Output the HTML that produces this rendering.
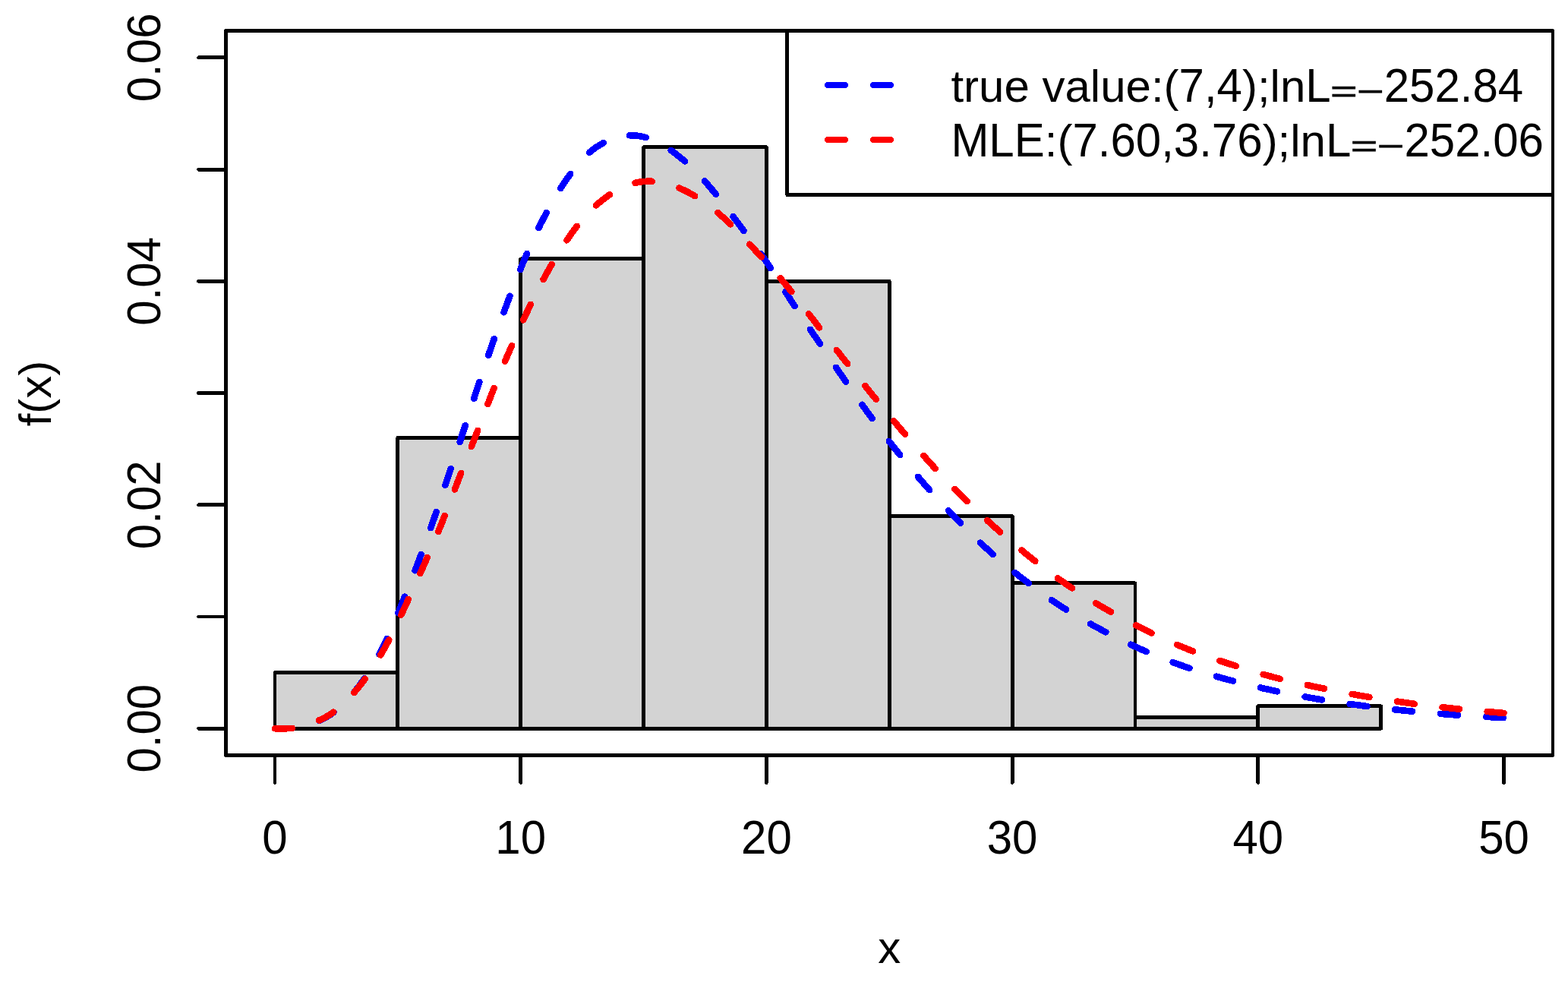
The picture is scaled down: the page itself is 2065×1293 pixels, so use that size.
<!DOCTYPE html>
<html lang="en"><head><meta charset="utf-8"><title>f(x) histogram with fitted densities</title>
<style>
html,body{margin:0;padding:0;background:#fff;}
body{width:2065px;height:1293px;overflow:hidden;}
svg{display:block;}
text{font-family:"Liberation Sans",Arial,Helvetica,sans-serif;font-size:60px;fill:#000;stroke:#000;stroke-width:0px;stroke-linejoin:round;white-space:pre;font-kerning:none;}
</style></head><body>
<svg shape-rendering="crispEdges" width="2065" height="1293" viewBox="0 0 2065 1293">
<rect x="0" y="0" width="2065" height="1293" fill="#fff"/>
<g fill="#d3d3d3" stroke="#000" stroke-width="4.8" stroke-linejoin="round">
<rect x="362.00" y="885.59" width="161.85" height="73.61"/>
<rect x="523.85" y="576.43" width="161.85" height="382.77"/>
<rect x="685.70" y="340.88" width="161.85" height="618.32"/>
<rect x="847.55" y="193.66" width="161.85" height="765.54"/>
<rect x="1009.40" y="370.32" width="161.85" height="588.88"/>
<rect x="1171.25" y="679.48" width="161.85" height="279.72"/>
<rect x="1333.10" y="767.81" width="161.85" height="191.39"/>
<rect x="1494.95" y="944.48" width="161.85" height="14.72"/>
<rect x="1656.80" y="929.76" width="161.85" height="29.44"/>
</g>
<g fill="none" stroke="#000" stroke-width="4.8" stroke-linecap="round" stroke-linejoin="round">
<path d="M362.00 994.5 H1980.50"/>
<path d="M362.00 994.5 v36"/>
<path d="M685.70 994.5 v36"/>
<path d="M1009.40 994.5 v36"/>
<path d="M1333.10 994.5 v36"/>
<path d="M1656.80 994.5 v36"/>
<path d="M1980.50 994.5 v36"/>
<path d="M297.5 959.20 V75.88"/>
<path d="M297.5 959.20 h-36"/>
<path d="M297.5 811.98 h-36"/>
<path d="M297.5 664.76 h-36"/>
<path d="M297.5 517.54 h-36"/>
<path d="M297.5 370.32 h-36"/>
<path d="M297.5 223.10 h-36"/>
<path d="M297.5 75.88 h-36"/>
<rect x="297.5" y="40.5" width="1747.50" height="954.00"/>
</g>
<text text-anchor="middle" transform="translate(362.00 1124.1) scale(1 1.058)">0</text>
<text text-anchor="middle" transform="translate(685.70 1124.1) scale(1 1.058)">10</text>
<text text-anchor="middle" transform="translate(1009.40 1124.1) scale(1 1.058)">20</text>
<text text-anchor="middle" transform="translate(1333.10 1124.1) scale(1 1.058)">30</text>
<text text-anchor="middle" transform="translate(1656.80 1124.1) scale(1 1.058)">40</text>
<text text-anchor="middle" transform="translate(1980.50 1124.1) scale(1 1.058)">50</text>
<text text-anchor="middle" x="1171.25" y="1268">x</text>
<text text-anchor="middle" transform="translate(211.4 959.20) rotate(-90) scale(1 1.058)">0.00</text>
<text text-anchor="middle" transform="translate(211.4 664.76) rotate(-90) scale(1 1.058)">0.02</text>
<text text-anchor="middle" transform="translate(211.4 370.32) rotate(-90) scale(1 1.058)">0.04</text>
<text text-anchor="middle" transform="translate(211.4 75.88) rotate(-90) scale(1 1.058)">0.06</text>
<text text-anchor="middle" transform="translate(67.2 518.00) rotate(-90)">f(x)</text>
<path d="M362.0 959.2 L378.2 959.2 L384.9 958.8 M420.4 949.0 L425.4 946.6 L430.3 944.0 L435.0 941.1 L439.6 937.9 M466.1 912.0 L469.7 907.4 L473.2 902.8 L476.6 898.1 L479.9 893.4 M499.3 861.6 L502.0 856.5 L504.6 851.4 L507.1 846.2 L509.6 841.1 M524.4 806.9 L526.6 801.6 L528.8 796.2 L530.9 790.9 L533.0 785.6 M546.5 751.2 L548.6 745.9 L550.6 740.6 L552.6 735.3 L554.6 729.9 M567.2 695.2 L569.1 689.9 L571.0 684.5 L572.8 679.1 L574.7 673.8 M586.4 638.8 L588.2 633.4 L590.0 628.0 L591.8 622.6 L593.7 617.2 M605.6 581.9 L607.4 576.4 L609.2 571.0 L611.0 565.6 L612.8 560.1 M624.2 524.9 L626.0 519.4 L627.8 514.0 L629.5 508.6 L631.3 503.1 M643.2 467.9 L645.1 462.4 L647.0 457.0 L648.9 451.6 L650.8 446.2 M663.5 411.2 L665.5 405.9 L667.5 400.5 L669.5 395.1 L671.5 389.8 M685.1 355.1 L687.3 349.8 L689.5 344.5 L691.7 339.2 L694.0 333.9 M709.4 300.2 L711.9 295.1 L714.5 290.0 L717.1 285.0 L719.7 279.9 M738.2 248.1 L741.3 243.3 L744.5 238.5 L747.8 233.7 L751.2 229.0 M776.0 201.0 L780.4 197.4 L785.0 194.0 L789.8 190.9 L794.7 188.1 M829.1 178.3 L834.6 178.3 L840.0 178.8 L845.4 179.7 L850.7 181.0 M883.6 198.0 L888.4 201.4 L893.0 205.0 L897.5 208.7 L901.9 212.4 M928.0 238.4 L931.8 242.7 L935.5 247.0 L939.2 251.4 L942.8 255.8 M965.5 285.2 L969.0 289.9 L972.5 294.5 L976.0 299.1 L979.5 303.8 M1001.9 334.0 L1005.2 338.8 L1008.5 343.5 L1011.7 348.3 L1014.8 353.0 M1034.5 384.2 L1037.5 389.0 L1040.5 393.8 L1043.6 398.5 L1046.6 403.2 M1067.1 433.8 L1070.3 438.5 L1073.5 443.2 L1076.7 448.0 L1080.0 452.8 M1101.0 483.8 L1104.2 488.5 L1107.5 493.2 L1110.8 498.0 L1114.0 502.7 M1135.3 532.8 L1138.7 537.4 L1142.0 542.0 L1145.3 546.6 L1148.7 551.2 M1170.9 580.9 L1174.5 585.5 L1178.0 590.0 L1181.6 594.5 L1185.2 599.0 M1209.0 627.8 L1212.7 632.2 L1216.5 636.5 L1220.3 640.8 L1224.1 645.1 M1249.1 672.2 L1253.1 676.4 L1257.0 680.5 L1260.9 684.6 L1264.9 688.7 M1291.1 714.7 L1295.3 718.6 L1299.5 722.5 L1303.7 726.3 L1308.0 730.1 M1336.5 753.9 L1341.0 757.4 L1345.5 761.0 L1350.1 764.5 L1354.6 768.0 M1384.9 790.1 L1389.7 793.3 L1394.5 796.5 L1399.3 799.6 L1404.2 802.7 M1436.2 821.5 L1441.2 824.3 L1446.2 827.0 L1451.3 829.7 L1456.3 832.3 M1489.2 848.7 L1494.3 851.1 L1499.5 853.5 L1504.7 855.8 L1510.0 858.1 M1544.6 872.1 L1550.1 874.1 L1555.5 876.0 L1560.9 877.9 L1566.4 879.7 M1602.0 890.7 L1607.5 892.2 L1613.0 893.8 L1618.5 895.2 L1624.0 896.7 M1660.0 905.5 L1665.5 906.8 L1671.1 908.0 L1676.7 909.2 L1682.2 910.4 M1718.5 917.5 L1724.1 918.5 L1729.8 919.5 L1735.4 920.5 L1741.0 921.4 M1777.7 927.0 L1783.3 927.7 L1789.0 928.5 L1794.7 929.2 L1800.3 930.0 M1837.1 934.3 L1842.8 934.9 L1848.5 935.5 L1854.2 936.1 L1859.9 936.6 M1897.0 939.9 L1902.8 940.3 L1908.5 940.8 L1914.2 941.2 L1920.0 941.5 M1957.1 943.8 L1962.8 944.2 L1968.5 944.5 L1974.2 944.9 L1979.9 945.2" fill="none" stroke="#0000ff" stroke-width="8.6" stroke-linecap="round" stroke-linejoin="round"/>
<path d="M362.0 959.2 L378.2 959.2 L384.9 958.8 M420.1 948.5 L425.1 946.2 L430.0 943.6 L434.7 940.7 L439.3 937.6 M466.2 912.1 L469.9 907.6 L473.6 903.1 L477.2 898.5 L480.7 893.8 M501.2 862.5 L504.1 857.6 L506.9 852.6 L509.6 847.6 L512.3 842.6 M528.3 809.7 L530.7 804.6 L533.1 799.4 L535.5 794.2 L537.9 789.0 M553.4 754.9 L555.8 749.7 L558.1 744.4 L560.4 739.2 L562.7 733.9 M577.2 700.0 L579.4 694.8 L581.5 689.5 L583.6 684.2 L585.7 678.9 M598.9 644.5 L600.9 639.1 L603.0 633.8 L605.1 628.4 L607.2 623.0 M620.8 588.2 L622.9 582.9 L625.0 577.5 L627.1 572.1 L629.1 566.8 M642.3 532.2 L644.4 526.9 L646.5 521.5 L648.6 516.1 L650.7 510.8 M665.0 476.1 L667.2 470.8 L669.5 465.5 L671.8 460.2 L674.1 455.0 M689.2 421.3 L691.6 416.1 L694.0 411.0 L696.4 405.9 L698.9 400.8 M715.5 368.0 L718.3 363.0 L721.0 358.0 L723.8 353.0 L726.6 348.0 M746.4 316.4 L749.7 311.7 L753.0 307.0 L756.4 302.4 L759.9 297.8 M785.0 270.4 L789.3 266.6 L793.8 263.0 L798.4 259.5 L803.1 256.2 M836.5 240.9 L842.0 239.7 L847.5 239.0 L853.1 238.7 L858.6 238.8 M894.5 247.6 L899.8 249.9 L905.0 252.5 L910.1 255.2 L915.1 258.1 M945.2 280.0 L949.5 283.7 L953.8 287.5 L957.9 291.4 L962.0 295.3 M987.3 321.6 L991.2 325.8 L995.0 330.0 L998.9 334.2 L1002.7 338.4 M1027.6 366.2 L1031.3 370.6 L1035.0 375.0 L1038.7 379.4 L1042.3 383.9 M1065.0 413.1 L1068.5 417.7 L1072.0 422.2 L1075.5 426.8 L1079.0 431.4 M1101.9 460.9 L1105.4 465.5 L1109.0 470.0 L1112.6 474.5 L1116.1 479.0 M1139.3 508.1 L1142.9 512.6 L1146.5 517.0 L1150.1 521.4 L1153.7 525.8 M1177.2 554.3 L1180.8 558.6 L1184.5 563.0 L1188.2 567.4 L1191.9 571.7 M1216.3 599.9 L1220.1 604.2 L1224.0 608.5 L1227.9 612.8 L1231.8 617.0 M1257.4 643.9 L1261.5 648.0 L1265.5 652.0 L1269.6 656.0 L1273.6 660.0 M1300.3 685.4 L1304.5 689.2 L1308.8 693.0 L1313.0 696.8 L1317.2 700.6 M1345.4 724.5 L1349.8 728.1 L1354.2 731.8 L1358.7 735.3 L1363.3 738.9 M1393.1 761.4 L1397.8 764.7 L1402.5 768.0 L1407.2 771.2 L1411.9 774.4 M1443.1 794.2 L1448.1 797.1 L1453.0 800.0 L1458.0 802.9 L1463.0 805.7 M1496.0 823.3 L1501.1 825.9 L1506.2 828.5 L1511.4 831.0 L1516.5 833.6 M1550.0 848.9 L1555.2 851.1 L1560.5 853.2 L1565.8 855.4 L1571.1 857.4 M1606.1 869.9 L1611.5 871.7 L1617.0 873.5 L1622.5 875.3 L1628.0 877.1 M1663.7 888.0 L1669.2 889.5 L1674.8 891.0 L1680.3 892.5 L1685.8 893.9 M1721.8 902.1 L1727.4 903.3 L1733.0 904.5 L1738.6 905.7 L1744.2 906.8 M1780.7 914.0 L1786.3 915.0 L1792.0 916.0 L1797.7 917.0 L1803.3 917.9 M1840.1 923.6 L1845.8 924.5 L1851.5 925.2 L1857.2 926.0 L1862.8 926.8 M1899.5 931.3 L1905.1 931.9 L1910.8 932.5 L1916.4 933.1 L1922.0 933.6 M1958.6 937.0 L1964.1 937.5 L1969.6 938.0 L1975.0 938.5 L1980.5 939.0" fill="none" stroke="#ff0000" stroke-width="8.6" stroke-linecap="round" stroke-linejoin="round"/>
<rect x="1036.6" y="40.5" width="1008.40" height="216.00" fill="#fff" stroke="#000" stroke-width="4.8" stroke-linejoin="round"/>
<path d="M1090 111.9 h22.9 M1150 111.9 h22.9" fill="none" stroke="#0000ff" stroke-width="8.1" stroke-linecap="round"/>
<path d="M1090 184.0 h22.9 M1150 184.0 h22.9" fill="none" stroke="#ff0000" stroke-width="8.1" stroke-linecap="round"/>
<g aria-label="true value:(7,4);lnL=-252.84"><text x="1252.40" y="133.80">true value:(</text><text transform="translate(1552.55 133.80) scale(1 1.058)">7,4</text><text x="1635.95" y="133.80">);ln</text><text transform="translate(1719.30 133.80) scale(1 1.058)">L</text><text transform="translate(1752.27 133.70) scale(1 0.66)" style="stroke-width:1.5px;stroke-linejoin:miter">=−</text><text transform="translate(1822.75 133.80) scale(1 1.058)">252.84</text></g>
<g aria-label="MLE:(7.60,3.76);lnL=-252.06"><text transform="translate(1252.40 206.30) scale(1 1.058)">MLE</text><text x="1375.77" y="206.30">:(</text><text transform="translate(1412.42 206.30) scale(1 1.058)">7.60,3.76</text><text x="1662.64" y="206.30">);ln</text><text transform="translate(1745.99 206.30) scale(1 1.058)">L</text><text transform="translate(1778.96 206.20) scale(1 0.66)" style="stroke-width:1.5px;stroke-linejoin:miter">=−</text><text transform="translate(1849.44 206.30) scale(1 1.058)">252.06</text></g>
</svg>
</body></html>
